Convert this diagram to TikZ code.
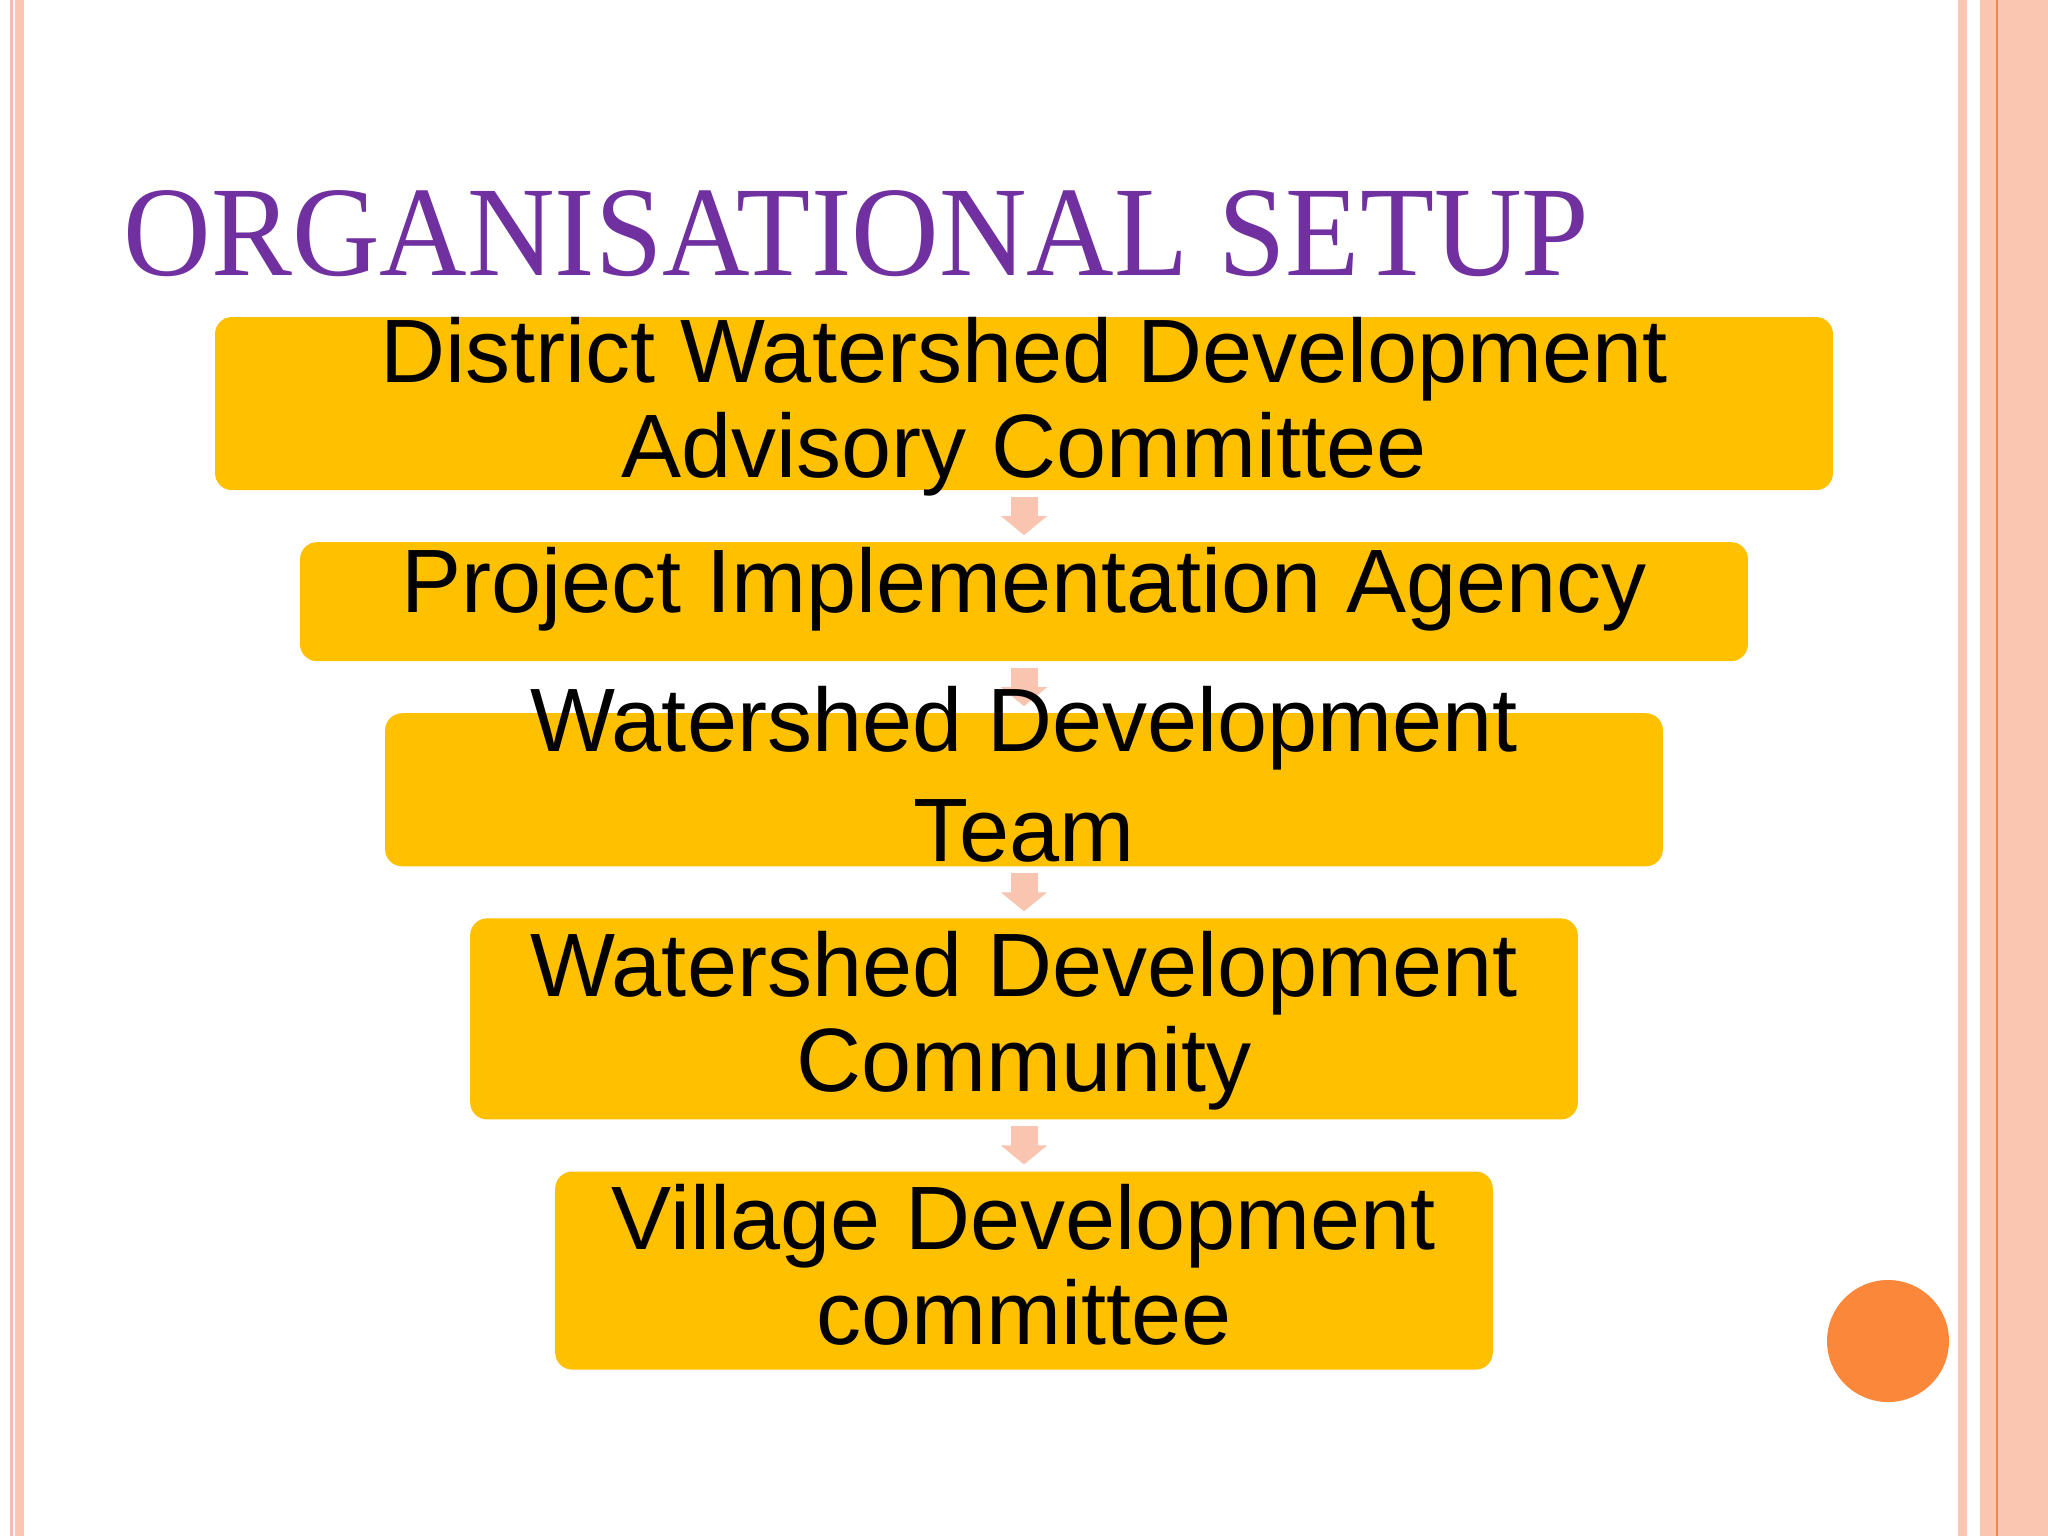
\documentclass[tikz,border=0pt]{standalone}
\usepackage{fontspec}
\setmainfont{Liberation Sans}
\newfontfamily\titlefont{Liberation Serif}
\usetikzlibrary{arrows.meta, positioning}
\definecolor{titlepurple}{HTML}{7030A0}
\definecolor{boxgold}{HTML}{FFC000}
\definecolor{arrowpeach}{HTML}{F9C4B0}
\definecolor{stripepink}{HTML}{FBC6B1}
\definecolor{stripedark}{HTML}{F4BCB0}
\definecolor{dotorange}{HTML}{FA873A}
\definecolor{lineorange}{HTML}{F08A45}
\def\cornerradius{0.17cm}
\def\boxgap{0.52cm}
\def\arrowgap{0.07cm}
\def\shaftwidth{0.27cm}
\def\headwidth{0.45cm}
\def\headlength{0.19cm}
\def\textsize{\fontsize{25.6pt}{26.75pt}\selectfont}
\tikzset{
	% title
	title/.style={
		anchor=base west,
		inner sep=0pt,
		text=titlepurple,
		font=\titlefont\fontsize{36.5pt}{40pt}\selectfont,
	},
	% levels of the setup
	level/.style={
		shape=rectangle,
		fill=boxgold,
		rounded corners=\cornerradius,
		inner sep=0pt,
		outer sep=0pt,
	},
	% level texts (placed at the baseline of their last line)
	level_text/.style={
		font=\textsize,
		align=center,
		anchor=base,
		inner sep=0pt,
	},
	% connections
	connection/.style={
		draw=arrowpeach,
		line width=\shaftwidth,
		-{Triangle[width=\headwidth,length=\headlength]},
		shorten <=\arrowgap,
		shorten >=\arrowgap,
	}
}
\begin{document}
\begin{tikzpicture}[x=0.01cm, y=-0.01cm]
	\useasboundingbox (0,0) rectangle (2048,1536);
	\fill[white] (0,0) rectangle (2048,1536);
	% side stripes
	\fill[stripedark] (10,0) rectangle (13,1536);
	\fill[stripepink] (15,0) rectangle (24,1536);
	\fill[stripepink] (1958,0) rectangle (1967,1536);
	\fill[stripepink] (1980,0) rectangle (2048,1536);
	\fill[lineorange] (1996,0) rectangle (1998,1536);
	\fill[dotorange] (1888,1341) circle[radius=61];
	%
	\node[title] (heading) at (123,275) {\scalebox{0.945}[1]{ORGANISATIONAL SETUP}};
	%
	\node[
		level,
		minimum width=16.17cm,
		minimum height=1.73cm,
		anchor=north
	] (dwdac) at (1024,317) {};
	%
	\node[
		level,
		minimum width=14.47cm,
		minimum height=1.19cm,
		below=\boxgap of dwdac
	] (pia) {};
	%
	\node[
		level,
		minimum width=12.77cm,
		minimum height=1.53cm,
		below=\boxgap of pia
	] (wdt) {};
	%
	\node[
		level,
		minimum width=11.07cm,
		minimum height=2.01cm,
		below=\boxgap of wdt
	] (wdc) {};
	%
	\node[
		level,
		minimum width=9.37cm,
		minimum height=1.98cm,
		below=\boxgap of wdc
	] (vdc) {};
	%
	\draw[connection] (dwdac) -- (pia);
	\draw[connection] (pia) -- (wdt);
	\draw[connection] (wdt) -- (wdc);
	\draw[connection] (wdc) -- (vdc);
	%
	\node[level_text] (dwdac_text) at (1024,477) {District Watershed Development\\Advisory Committee};
	\node[level_text] (pia_text) at (1024,612) {Project Implementation Agency};
	\node[level_text, font=\fontsize{25.6pt}{31pt}\selectfont] (wdt_text) at (1024,861) {Watershed Development\\Team};
	\node[level_text] (wdc_text) at (1024,1091) {Watershed Development\\Community};
	\node[level_text] (vdc_text) at (1024,1344) {Village Development\\committee};
\end{tikzpicture}
\end{document}
